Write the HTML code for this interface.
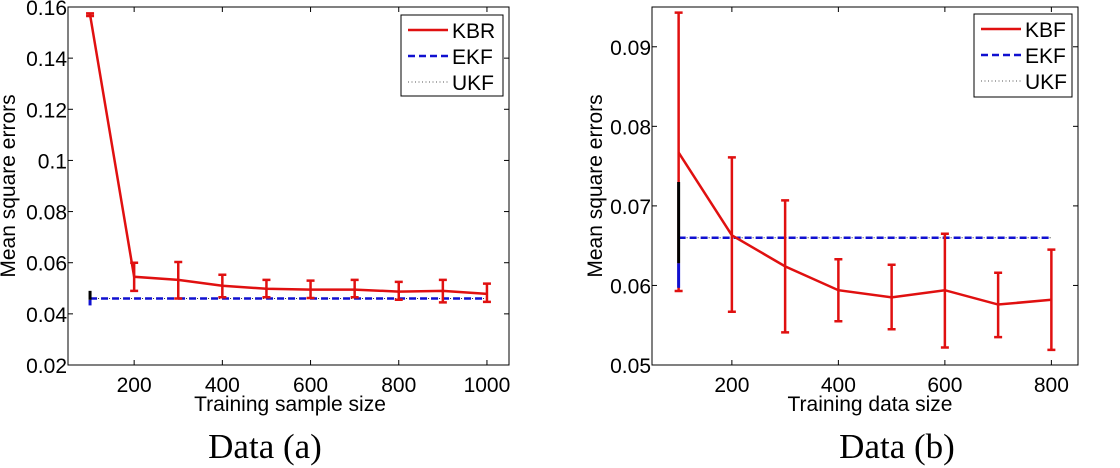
<!DOCTYPE html>
<html><head><meta charset="utf-8"><style>
html,body{margin:0;padding:0;background:#fff;}
svg{display:block;font-family:"Liberation Sans",sans-serif;}
</style></head><body>
<svg id="fig" width="1120" height="468" viewBox="0 0 1120 468" xmlns="http://www.w3.org/2000/svg"></svg>
<script>
// Panel (a) data
const xA = [100,200,300,400,500,600,700,800,900,1000];
const kbrA = [0.157,0.0545,0.0533,0.0510,0.0498,0.0495,0.0495,0.0487,0.0490,0.0478];
const kbrLoA = [0.1565,0.0490,0.0460,0.0465,0.0465,0.0462,0.0465,0.0455,0.0445,0.0447];
const kbrHiA = [0.1575,0.0600,0.0603,0.0553,0.0533,0.0530,0.0533,0.0525,0.0533,0.0518];
const ekfA = [0.046,0.046];
const ekfXA = [100,1000];
const ticksXA = [200,400,600,800,1000];
const ticksYA = [0.02,0.04,0.06,0.08,0.1,0.12,0.14,0.16];
const tickLabYA = ["0.02","0.04","0.06","0.08","0.1","0.12","0.14","0.16"];
// Panel (b) data
const xB = [100,200,300,400,500,600,700,800];
const kbfB = [0.0767,0.0663,0.0624,0.0594,0.0585,0.0594,0.0576,0.0582];
const kbfLoB = [0.0593,0.0567,0.0541,0.0555,0.0545,0.0522,0.0535,0.0519];
const kbfHiB = [0.0943,0.0761,0.0707,0.0633,0.0626,0.0665,0.0616,0.0645];
const ekfB = [0.066,0.066];
const ekfXB = [100,800];
const ticksXB = [200,400,600,800];
const ticksYB = [0.05,0.06,0.07,0.08,0.09];
const tickLabYB = ["0.05","0.06","0.07","0.08","0.09"];

const NS="http://www.w3.org/2000/svg";
const svg=document.getElementById('fig');
function mk(tag,attrs,parent){const e=document.createElementNS(NS,tag);for(const k in attrs)e.setAttribute(k,attrs[k]);(parent||svg).appendChild(e);return e;}

function panel(cfg){
  const g=mk('g',{});
  
  
  const sx=v=>cfg.x0+(v-cfg.xmin)/(cfg.xmax-cfg.xmin)*(cfg.x1-cfg.x0);
  const sy=v=>cfg.y1-(v-cfg.ymin)/(cfg.ymax-cfg.ymin)*(cfg.y1-cfg.y0);
  cfg.tx.forEach(t=>{
    const x=sx(t);
    const l=mk('line',{x1:x,x2:x,y1:cfg.y1,y2:cfg.y1-5,stroke:'#000','stroke-width':1},g);
    
    
    mk('line',{x1:x,x2:x,y1:cfg.y0,y2:cfg.y0+5,stroke:'#000','stroke-width':1},g);
    const tx=mk('text',{x:x,y:cfg.y1+27,'font-size':21,'text-anchor':'middle',fill:'#000'},g);
    tx.textContent=String(t);
    
    
  });
  cfg.ty.forEach((t,i)=>{
    const y=sy(t);
    mk('line',{x1:cfg.x0,x2:cfg.x0+5,y1:y,y2:y,stroke:'#000','stroke-width':1},g);
    mk('line',{x1:cfg.x1,x2:cfg.x1-5,y1:y,y2:y,stroke:'#000','stroke-width':1},g);
    const tx=mk('text',{x:cfg.x0-1,y:y+8,'font-size':21,'text-anchor':'end',fill:'#000'},g);
    tx.textContent=cfg.tyl[i];
    
    
  });
  const el=mk('line',{x1:sx(cfg.ekfX[0]),x2:sx(cfg.ekfX[1]),y1:sy(cfg.ekf[0]),y2:sy(cfg.ekf[1]),stroke:'#1010d0','stroke-width':2.5,'stroke-dasharray':'7 4'},g);
  
  
  mk('line',{x1:sx(cfg.ekfX[0]),x2:sx(cfg.ekfX[1]),y1:sy(cfg.ekf[0]),y2:sy(cfg.ekf[1]),stroke:'#333','stroke-width':1,'stroke-dasharray':'1 10','stroke-dashoffset':-8},g);
  cfg.xs.forEach((v,i)=>{
    const x=sx(v),ya=sy(cfg.lo[i]),yb=sy(cfg.hi[i]);
    const e=mk('path',{d:`M${x},${ya}V${yb}M${x-4},${ya}H${x+4}M${x-4},${yb}H${x+4}`,stroke:'#e01010','stroke-width':2.5,fill:'none'},g);
    
    
  });
  const pl=mk('polyline',{points:cfg.xs.map((v,i)=>sx(v)+','+sy(cfg.ys[i])).join(' '),stroke:'#e01010','stroke-width':2.5,fill:'none'},g);
  
  
  const eb=cfg.ekfBar;
  const b1=mk('line',{x1:sx(cfg.ekfX[0]),x2:sx(cfg.ekfX[0]),y1:sy(eb[0]),y2:sy(eb[1]),stroke:'#1010d0','stroke-width':3},g);
  
  
  const b2=mk('line',{x1:sx(cfg.ekfX[0]),x2:sx(cfg.ekfX[0]),y1:sy(eb[1]),y2:sy(eb[2]),stroke:'#000','stroke-width':3},g);
  
  
  const fr=mk('rect',{x:cfg.x0,y:cfg.y0,width:cfg.x1-cfg.x0,height:cfg.y1-cfg.y0,fill:'none',stroke:'#000','stroke-width':1},g);
  
  
  const L=cfg.leg;
  const lg=mk('g',{},g);
  
  
  mk('rect',{x:L.x,y:L.y,width:L.w,height:L.h,fill:'#fff',stroke:'#000','stroke-width':1},lg);
  const names=[cfg.k,'EKF','UKF'];
  names.forEach((n,i)=>{
    const y=L.y+15+i*26;
    const st=i==0?{stroke:'#e01010','stroke-width':2.5}:i==1?{stroke:'#1010d0','stroke-width':2.5,'stroke-dasharray':'7 4'}:{stroke:'#555','stroke-width':1,'stroke-dasharray':'1 2.5'};
    mk('line',Object.assign({x1:L.x+7,x2:L.x+47,y1:y,y2:y},st),lg);
    const t=mk('text',{x:L.x+51,y:y+8,'font-size':21,fill:'#000'},lg);
    t.textContent=n;
    
    
  });
  const xl=mk('text',{x:cfg.xlx,y:cfg.y1+46,'font-size':21,'text-anchor':'middle',fill:'#000'},g);
  xl.textContent=cfg.xlab;
  
  
  const yl=mk('text',{x:0,y:0,'font-size':21,'text-anchor':'middle',fill:'#000',transform:`translate(${cfg.ylx},${(cfg.y0+cfg.y1)/2}) rotate(-90)`},g);
  yl.textContent='Mean square errors';
  
  
  const cap=mk('text',{x:cfg.capx,y:458,'font-size':35,'text-anchor':'middle',fill:'#000','font-family':'Liberation Serif, serif'},g);
  cap.textContent=cfg.cap;
  
  
}
panel({name:'panel-a',x0:68,x1:509,y0:7,y1:365,xmin:50,xmax:1050,ymin:0.02,ymax:0.16,
  tx:ticksXA,ty:ticksYA,tyl:tickLabYA,xs:xA,ys:kbrA,lo:kbrLoA,hi:kbrHiA,ekf:ekfA,ekfX:ekfXA,ekfBar:[0.0433,0.0455,0.049],
  leg:{x:401,y:15,w:102,h:81},k:'KBR',xlab:'Training sample size',xlx:290,ylx:15,cap:'Data (a)',capx:265});
panel({name:'panel-b',x0:652,x1:1078,y0:7,y1:365,xmin:50,xmax:850,ymin:0.05,ymax:0.095,
  tx:ticksXB,ty:ticksYB,tyl:tickLabYB,xs:xB,ys:kbfB,lo:kbfLoB,hi:kbfHiB,ekf:ekfB,ekfX:ekfXB,ekfBar:[0.0597,0.0628,0.073],
  leg:{x:974,y:14,w:98,h:83},k:'KBF',xlab:'Training data size',xlx:870,ylx:602,cap:'Data (b)',capx:897});
</script>
</body></html>
